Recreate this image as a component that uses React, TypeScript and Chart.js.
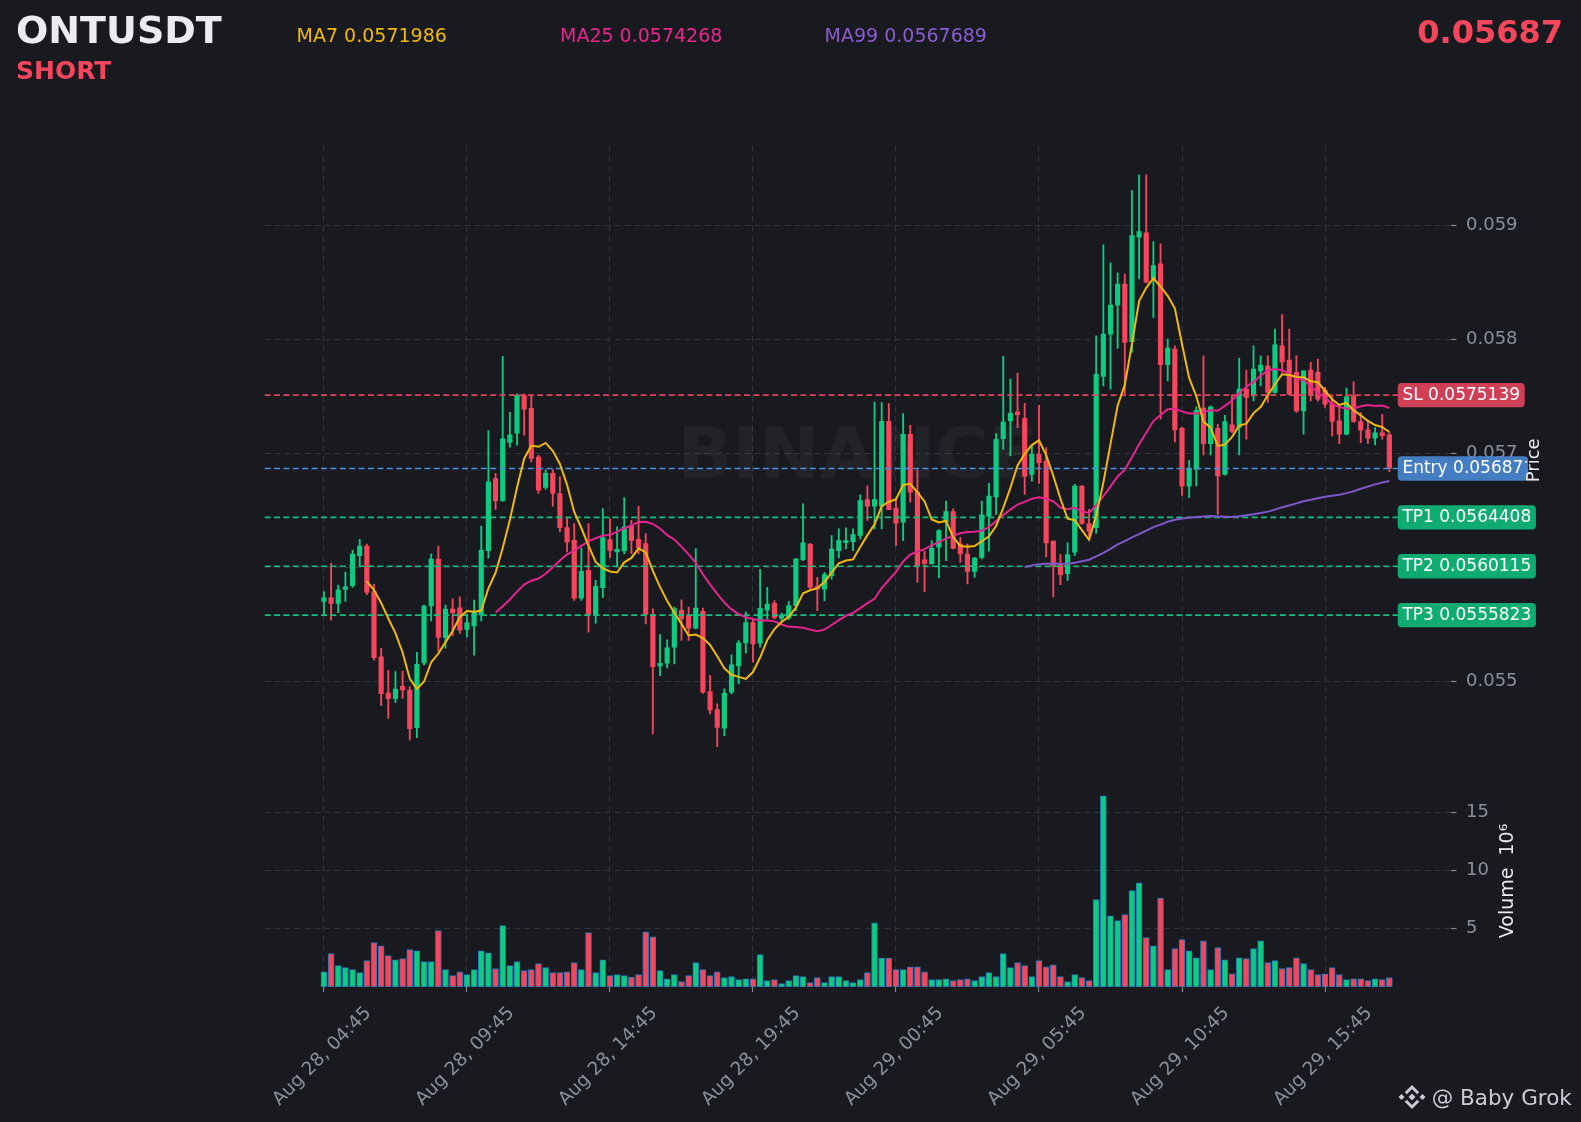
import React, { useEffect, useRef } from "react";
import { Chart, registerables } from "chart.js";

Chart.register(...registerables);

// ---------------- data ----------------
const SYMBOL = "ONTUSDT";
const SIDE = "SHORT";
const LAST_PRICE_TEXT = "0.05687";
const MA_TEXTS = ["MA7 0.0571986", "MA25 0.0574268", "MA99 0.0567689"];
const MA_PERIODS = [7, 25, 99];

const TICK_INDEX = [0, 20, 40, 60, 80, 100, 120, 140];
const TICK_LABELS = [
  "Aug 28, 04:45",
  "Aug 28, 09:45",
  "Aug 28, 14:45",
  "Aug 28, 19:45",
  "Aug 29, 00:45",
  "Aug 29, 05:45",
  "Aug 29, 10:45",
  "Aug 29, 15:45",
];
const PRICE_TICKS = [0.055, 0.056, 0.057, 0.058, 0.059];
const VOLUME_TICKS = [5, 10, 15];

const OPEN = [
  0.055702, 0.055734, 0.055685, 0.055808, 0.05584, 0.056104, 0.056189, 0.05579, 0.055216, 0.054899,
  0.054849, 0.054957, 0.054925, 0.054594, 0.055163, 0.055664, 0.056075, 0.055386, 0.055635, 0.055646,
  0.055456, 0.055488, 0.055585, 0.056148, 0.056781, 0.056588, 0.057098, 0.05718, 0.057511, 0.057397,
  0.056969, 0.056703, 0.056826, 0.05665, 0.056351, 0.056239, 0.055732, 0.055975, 0.05558, 0.055823,
  0.056245, 0.056137, 0.056145, 0.056362, 0.056248, 0.05621, 0.055588, 0.055137, 0.05516, 0.055301,
  0.055624, 0.055585, 0.055468, 0.055615, 0.054911, 0.054753, 0.054591, 0.054905, 0.055137, 0.055339,
  0.055518, 0.055336, 0.055625, 0.055685, 0.055556, 0.055556, 0.055665, 0.05607, 0.056207, 0.055832,
  0.055811, 0.055929, 0.056149, 0.056219, 0.056228, 0.056281, 0.056597, 0.056539, 0.056539, 0.057283,
  0.056521, 0.056398, 0.057169, 0.056662, 0.056067, 0.056031, 0.056178, 0.056398, 0.056492, 0.056207,
  0.056119, 0.055967, 0.05609, 0.056451, 0.056621, 0.057132, 0.057287, 0.057366, 0.05731, 0.056818,
  0.056994, 0.056935, 0.056232, 0.056026, 0.055947, 0.056135, 0.056715, 0.056387, 0.056349, 0.057677,
  0.058049, 0.058304, 0.058489, 0.057982, 0.0589, 0.058938, 0.058533, 0.058665, 0.05778, 0.057917,
  0.057223, 0.056715, 0.056862, 0.057399, 0.057088, 0.057223, 0.056818, 0.057252, 0.057229, 0.057566,
  0.057507, 0.057727, 0.057771, 0.057537, 0.057947, 0.057821, 0.057713, 0.057375, 0.057733, 0.057713,
  0.057557, 0.05744, 0.057288, 0.05717, 0.057507, 0.057282, 0.057208, 0.057135, 0.057182, 0.057164,
];
const HIGH = [
  0.05579, 0.056039, 0.055846, 0.05596, 0.056154, 0.056248, 0.056207, 0.055852, 0.055292, 0.055098,
  0.055086, 0.055092, 0.054954, 0.055256, 0.05567, 0.056119, 0.056189, 0.05567, 0.055726, 0.055743,
  0.055591, 0.055714, 0.056365, 0.057203, 0.056828, 0.057854, 0.057362, 0.057526, 0.057526, 0.057511,
  0.056985, 0.05686, 0.05686, 0.056796, 0.05643, 0.056386, 0.056172, 0.056386, 0.055887, 0.056518,
  0.05643, 0.056357, 0.056615, 0.056415, 0.056538, 0.056298, 0.055638, 0.055412, 0.055366, 0.055653,
  0.055717, 0.055653, 0.056166, 0.055644, 0.055052, 0.054803, 0.054935, 0.055234, 0.05536, 0.055609,
  0.055541, 0.055984, 0.055826, 0.055709, 0.0556, 0.055703, 0.05608, 0.056559, 0.05621, 0.055914,
  0.055958, 0.056281, 0.056339, 0.056348, 0.056339, 0.056638, 0.056717, 0.057453, 0.057448, 0.057439,
  0.056603, 0.057351, 0.057248, 0.056858, 0.056143, 0.056237, 0.056333, 0.056583, 0.056515, 0.056266,
  0.056207, 0.05609, 0.056583, 0.056739, 0.057176, 0.057853, 0.057654, 0.057706, 0.057442, 0.057073,
  0.057425, 0.057052, 0.056232, 0.056114, 0.056217, 0.05673, 0.05672, 0.05651, 0.058035, 0.058832,
  0.058674, 0.058586, 0.058577, 0.05931, 0.059448, 0.059448, 0.058861, 0.058841, 0.058005, 0.057947,
  0.05723, 0.056941, 0.057411, 0.057859, 0.057419, 0.057258, 0.057337, 0.057516, 0.057839, 0.057733,
  0.057947, 0.057859, 0.057859, 0.058094, 0.05822, 0.058094, 0.057859, 0.05773, 0.057801, 0.05783,
  0.057581, 0.057507, 0.057434, 0.057575, 0.057631, 0.057361, 0.057287, 0.057229, 0.057346, 0.057185,
];
const LOW = [
  0.055585, 0.055538, 0.055605, 0.055702, 0.055825, 0.056007, 0.055761, 0.055186, 0.054787, 0.054676,
  0.054817, 0.054852, 0.054488, 0.054506, 0.055145, 0.055532, 0.055268, 0.055292, 0.055403, 0.055421,
  0.055391, 0.05523, 0.055532, 0.056083, 0.056511, 0.05658, 0.057057, 0.057074, 0.057162, 0.056928,
  0.05665, 0.056685, 0.056538, 0.056313, 0.056137, 0.055712, 0.055712, 0.055433, 0.055512, 0.055735,
  0.056087, 0.056005, 0.056122, 0.056122, 0.056122, 0.055506, 0.054539, 0.055052, 0.055119, 0.055154,
  0.05536, 0.05536, 0.055462, 0.054896, 0.054715, 0.054427, 0.054524, 0.054891, 0.054979, 0.055248,
  0.055169, 0.055301, 0.05555, 0.055548, 0.055533, 0.055545, 0.055621, 0.056061, 0.055812, 0.055621,
  0.055709, 0.055899, 0.056084, 0.056163, 0.056149, 0.056251, 0.056413, 0.056339, 0.056339, 0.056509,
  0.056193, 0.056237, 0.056574, 0.05587, 0.055788, 0.056031, 0.055908, 0.056061, 0.056163, 0.056046,
  0.055856, 0.055914, 0.056075, 0.056144, 0.056466, 0.057038, 0.056979, 0.057228, 0.056642, 0.056759,
  0.056739, 0.056094, 0.055742, 0.05585, 0.055886, 0.056105, 0.056378, 0.056276, 0.056299, 0.057595,
  0.057566, 0.057923, 0.057507, 0.057888, 0.058533, 0.058498, 0.058196, 0.057302, 0.057639, 0.057102,
  0.056633, 0.056613, 0.056716, 0.056988, 0.056988, 0.056467, 0.056812, 0.057185, 0.056988, 0.057126,
  0.057463, 0.057595, 0.057449, 0.05753, 0.057713, 0.057515, 0.057361, 0.05717, 0.057463, 0.05746,
  0.057405, 0.057156, 0.057088, 0.057165, 0.057275, 0.057097, 0.057088, 0.057076, 0.057126, 0.056842,
];
const CLOSE = [
  0.055734, 0.055685, 0.055805, 0.055831, 0.056119, 0.056189, 0.055781, 0.05521, 0.054893, 0.054849,
  0.054934, 0.054925, 0.054585, 0.055151, 0.055661, 0.056075, 0.055386, 0.055635, 0.055605, 0.05545,
  0.055515, 0.055614, 0.056154, 0.056752, 0.056588, 0.05713, 0.057165, 0.057511, 0.057391, 0.056957,
  0.056679, 0.056826, 0.05665, 0.056351, 0.056225, 0.055732, 0.055967, 0.055588, 0.055835, 0.056263,
  0.056151, 0.05616, 0.056357, 0.056239, 0.056175, 0.055588, 0.055131, 0.05516, 0.055295, 0.055638,
  0.05555, 0.055468, 0.055644, 0.054905, 0.05475, 0.054597, 0.054899, 0.055146, 0.055339, 0.055518,
  0.05533, 0.055641, 0.05568, 0.055562, 0.055583, 0.055665, 0.056075, 0.056216, 0.055826, 0.055811,
  0.055938, 0.056163, 0.056237, 0.056237, 0.056289, 0.056588, 0.056539, 0.056597, 0.057283, 0.056509,
  0.056389, 0.057169, 0.056662, 0.056017, 0.056037, 0.056169, 0.056325, 0.056492, 0.056169, 0.056119,
  0.055967, 0.056084, 0.056462, 0.056627, 0.057126, 0.057278, 0.057354, 0.057343, 0.056803, 0.056994,
  0.056921, 0.056217, 0.056012, 0.055938, 0.056114, 0.056715, 0.056387, 0.056319, 0.057697, 0.058049,
  0.058304, 0.058489, 0.057976, 0.058914, 0.058949, 0.058504, 0.05865, 0.05778, 0.057926, 0.057208,
  0.056715, 0.056868, 0.057381, 0.057088, 0.057411, 0.056804, 0.057282, 0.057194, 0.057566, 0.057493,
  0.057742, 0.057777, 0.057537, 0.057956, 0.057806, 0.057522, 0.057375, 0.057727, 0.057522, 0.057478,
  0.057434, 0.057282, 0.05717, 0.057499, 0.057282, 0.057205, 0.057135, 0.057182, 0.057158, 0.05687,
];
// volume in millions
const VOLUME = [
  1.31, 2.86, 1.83, 1.66, 1.49, 1.23, 2.26, 3.8, 3.54, 2.69,
  2.34, 2.43, 3.2, 3.11, 2.17, 2.17, 4.83, 1.49, 0.97, 1.31,
  1.06, 1.49, 3.11, 2.94, 1.57, 5.26, 1.83, 2.17, 1.4, 1.49,
  2.0, 1.66, 1.23, 1.23, 1.31, 2.09, 1.49, 4.66, 1.23, 2.34,
  0.97, 1.06, 0.97, 0.86, 1.06, 4.74, 4.31, 1.4, 0.71, 1.06,
  0.46, 0.97, 2.09, 1.49, 0.97, 1.31, 0.8, 0.89, 0.63, 0.71,
  0.71, 2.77, 0.54, 0.63, 0.29, 0.54, 0.97, 0.89, 0.37, 0.8,
  0.37, 0.89, 0.89, 0.54, 0.37, 0.63, 1.23, 5.51, 2.49, 2.49,
  1.49, 1.49, 1.74, 1.74, 1.31, 0.63, 0.63, 0.71, 0.54, 0.63,
  0.71, 0.54, 0.89, 1.23, 0.89, 2.86, 1.66, 2.09, 1.83, 0.89,
  2.26, 1.74, 1.91, 0.89, 0.46, 1.06, 0.8, 0.54, 7.49, 16.4,
  6.11, 5.69, 6.2, 8.26, 8.94, 4.23, 3.54, 7.63, 1.49, 3.29,
  4.06, 3.11, 2.51, 3.97, 1.49, 3.37, 2.34, 1.14, 2.51, 2.43,
  3.29, 3.97, 2.09, 2.26, 1.57, 1.66, 2.51, 2.0, 1.49, 1.06,
  1.14, 1.66, 1.06, 0.63, 0.71, 0.71, 0.54, 0.71, 0.63, 0.8,
];

const LEVEL_VALUES = [0.0575139, 0.05687, 0.0564408, 0.0560115, 0.0555823];
const LEVEL_TEXTS = ["SL 0.0575139", "Entry 0.05687", "TP1 0.0564408", "TP2 0.0560115", "TP3 0.0555823"];

// ---------------- style ----------------
const BG = "#181a20";
const UP = "#0ecb81";
const DOWN = "#f6465d";
const MA_COLORS = ["#f0b90b", "#e6238e", "#7f57c8"];
const MA_TEXT_COLORS = ["#f0b90b", "#e8268d", "#8a5bd1"];
const LEVEL_LINE_COLORS = ["#e0435c", "#4a8fe0", "#12c07f", "#12c07f", "#12c07f"];
const LEVEL_BOX_COLORS = ["#e0435c", "#4a86d0", "#0fb97a", "#0fb97a", "#0fb97a"];
const GRID = "#30343b";
const TICK_TEXT = "#8a9099";
const FONT = '"DejaVu Sans"';

const X_MIN = -8.3;
const X_MAX = 157.55;
const LABEL_X = 150.17;
const PRICE_MIN = 0.054179;
const PRICE_MAX = 0.059703;
const VOL_MAX = 18.18;
const WATERMARK_PRICE = 0.05695;

function movingAverage(values: number[], period: number) {
  const out: { x: number; y: number }[] = [];
  for (let i = period - 1; i < values.length; i++) {
    let s = 0;
    for (let k = i - period + 1; k <= i; k++) s += values[k];
    out.push({ x: i, y: s / period });
  }
  return out;
}

const overlayPlugin = {
  id: "overlay",
  beforeDatasetsDraw(chart: any) {
    const { ctx, chartArea, scales } = chart;
    ctx.save();
    ctx.font = `bold 72px ${FONT}`;
    ctx.fillStyle = "rgba(255,255,255,0.045)";
    ctx.textAlign = "center";
    ctx.textBaseline = "middle";
    ctx.fillText("BINANCE", (chartArea.left + chartArea.right) / 2, scales.y.getPixelForValue(WATERMARK_PRICE));
    ctx.restore();
  },
  afterDraw(chart: any) {
    const { ctx, scales } = chart;
    ctx.save();
    const x0 = scales.x.getPixelForValue(LABEL_X);
    ctx.font = `17px ${FONT}`;
    ctx.textAlign = "left";
    ctx.textBaseline = "middle";
    LEVEL_VALUES.forEach((v, i) => {
      const y = scales.y.getPixelForValue(v);
      const w = ctx.measureText(LEVEL_TEXTS[i]).width + 9.4;
      const h = 24.4;
      ctx.globalAlpha = 0.92;
      ctx.fillStyle = LEVEL_BOX_COLORS[i];
      ctx.beginPath();
      ctx.roundRect(x0, y - h / 2, w, h, 4);
      ctx.fill();
      ctx.globalAlpha = 1;
      ctx.fillStyle = "#ffffff";
      ctx.fillText(LEVEL_TEXTS[i], x0 + 4.7, y + 0.5);
    });
    // axis titles (reading upward)
    const ys = scales.y;
    const yv = scales.yv;
    ctx.fillStyle = "#eaecef";
    ctx.textAlign = "center";
    ctx.textBaseline = "middle";
    ctx.save();
    ctx.translate(ys.left + 84, (ys.top + ys.bottom) / 2);
    ctx.rotate(-Math.PI / 2);
    ctx.font = `18px ${FONT}`;
    ctx.fillText("Price", 0, 0);
    ctx.restore();
    ctx.save();
    ctx.translate(yv.left + 58, (yv.top + yv.bottom) / 2);
    ctx.rotate(-Math.PI / 2);
    ctx.font = `19px ${FONT}`;
    ctx.fillText("Volume  10\u2076", 0, 0);
    ctx.restore();
    ctx.restore();
  },
};

export default function App() {
  const ref = useRef<HTMLCanvasElement>(null);

  useEffect(() => {
    document.body.style.margin = "0";
    document.body.style.background = BG;
    document.body.style.overflow = "hidden";
    Chart.defaults.font.family = FONT;

    const n = CLOSE.length;
    const candleColors = CLOSE.map((c, i) => (c >= OPEN[i] ? UP : DOWN));
    const idx = Array.from({ length: n }, (_, i) => i);

    const datasets: any[] = [
      {
        type: "bar",
        label: "wick",
        data: idx.map((i) => ({ x: i, y: [LOW[i], HIGH[i]] })),
        backgroundColor: candleColors,
        barThickness: 1.2,
        grouped: false,
        yAxisID: "y",
        order: 10,
      },
      {
        type: "bar",
        label: "body",
        data: idx.map((i) => ({ x: i, y: [OPEN[i], CLOSE[i]] })),
        backgroundColor: candleColors,
        barThickness: 4.5,
        minBarLength: 1.2,
        grouped: false,
        yAxisID: "y",
        order: 9,
      },
      {
        type: "bar",
        label: "volume",
        data: idx.map((i) => ({ x: i, y: VOLUME[i] })),
        backgroundColor: candleColors,
        borderColor: "#1f77b4",
        borderWidth: 1,
        borderSkipped: false,
        barThickness: 6,
        grouped: false,
        yAxisID: "yv",
        order: 8,
      },
    ];

    LEVEL_VALUES.forEach((v, i) => {
      datasets.push({
        type: "line",
        label: LEVEL_TEXTS[i],
        data: [
          { x: X_MIN, y: v },
          { x: LABEL_X, y: v },
        ],
        borderColor: LEVEL_LINE_COLORS[i],
        borderWidth: 1.6,
        borderDash: [6, 3.4],
        pointRadius: 0,
        yAxisID: "y",
        order: 5,
      });
    });

    MA_PERIODS.forEach((p, i) => {
      datasets.push({
        type: "line",
        label: "MA" + p,
        data: movingAverage(CLOSE, p),
        borderColor: MA_COLORS[i],
        borderWidth: 2,
        pointRadius: 0,
        tension: 0,
        yAxisID: "y",
        order: 1,
      });
    });

    const chart = new Chart(ref.current as HTMLCanvasElement, {
      type: "bar",
      data: { datasets },
      plugins: [overlayPlugin],
      options: {
        responsive: false,
        animation: false,
        layout: { padding: { left: 264.6, top: 145.7, right: 0, bottom: 0 } },
        plugins: { legend: { display: false }, tooltip: { enabled: false } },
        scales: {
          x: {
            type: "linear",
            min: X_MIN,
            max: X_MAX,
            offset: false,
            afterBuildTicks: (s: any) => {
              s.ticks = TICK_INDEX.map((v) => ({ value: v }));
            },
            afterFit: (s: any) => {
              s.height = 135;
            },
            grid: {
              offset: false,
              color: GRID,
              lineWidth: 1,
              tickLength: 5,
              tickColor: "#80868e",
              tickWidth: 1.2,
            },
            border: { display: false, dash: [6, 4] },
            ticks: {
              autoSkip: false,
              minRotation: 45,
              maxRotation: 45,
              labelOffset: 44.5,
              padding: 10.5,
              color: TICK_TEXT,
              font: { size: 18.5, family: FONT },
              callback: (value: any) => {
                const k = TICK_INDEX.indexOf(Number(value));
                return k >= 0 ? TICK_LABELS[k] : "";
              },
            },
          },
          y: {
            type: "linear",
            position: "right",
            stack: "panes",
            stackWeight: 629.3,
            min: PRICE_MIN,
            max: PRICE_MAX,
            beginAtZero: false,
            afterBuildTicks: (s: any) => {
              s.ticks = PRICE_TICKS.map((v) => ({ value: v }));
            },
            afterFit: (s: any) => {
              s.width = 130.5;
            },
            grid: { color: GRID, lineWidth: 1, tickLength: 6, tickColor: "#80868e", tickWidth: 1.2 },
            border: { display: false, dash: [6, 4] },
            ticks: {
              padding: 9.5,
              color: TICK_TEXT,
              font: { size: 18, family: FONT },
              callback: (value: any) => Number(value).toFixed(3),
            },
          },
          yv: {
            type: "linear",
            position: "right",
            stack: "panes",
            stackWeight: 212,
            min: 0,
            max: VOL_MAX,
            beginAtZero: true,
            afterBuildTicks: (s: any) => {
              s.ticks = VOLUME_TICKS.map((v) => ({ value: v }));
            },
            afterFit: (s: any) => {
              s.width = 130.5;
            },
            grid: { color: GRID, lineWidth: 1, tickLength: 6, tickColor: "#80868e", tickWidth: 1.2 },
            border: { display: false, dash: [6, 4] },
            ticks: {
              padding: 9.5,
              color: TICK_TEXT,
              font: { size: 18, family: FONT },
              callback: (value: any) => String(value),
            },
          },
        },
      } as any,
    });
    return () => chart.destroy();
  }, []);

  const text = (extra: React.CSSProperties): React.CSSProperties => ({
    position: "absolute",
    lineHeight: 1,
    whiteSpace: "nowrap",
    fontFamily: FONT,
    ...extra,
  });

  return (
    <div
      style={{
        position: "absolute",
        left: 0,
        top: 0,
        width: 1581,
        height: 1122,
        background: BG,
        overflow: "hidden",
      }}
    >
      <canvas
        ref={ref}
        width={1581}
        height={1122}
        style={{ position: "absolute", left: 0, top: 0, width: 1581, height: 1122 }}
      />
      <div style={text({ left: 16, top: 10.6, fontSize: 38, fontWeight: "bold", color: "#eaecef" })}>{SYMBOL}</div>
      <div style={text({ left: 16, top: 58.1, fontSize: 25, fontWeight: "bold", color: DOWN })}>{SIDE}</div>
      <div style={text({ left: 296.6, top: 25.8, fontSize: 19, color: MA_TEXT_COLORS[0] })}>{MA_TEXTS[0]}</div>
      <div style={text({ left: 560, top: 25.8, fontSize: 19, color: MA_TEXT_COLORS[1] })}>{MA_TEXTS[1]}</div>
      <div style={text({ left: 824.6, top: 25.8, fontSize: 19, color: MA_TEXT_COLORS[2] })}>{MA_TEXTS[2]}</div>
      <div style={text({ right: 18, top: 15.6, fontSize: 32, fontWeight: "bold", color: DOWN })}>{LAST_PRICE_TEXT}</div>
      <svg
        width={28}
        height={28}
        viewBox="0 0 28 28"
        style={{ position: "absolute", left: 1398, top: 1083 }}
      >
        <g fill="#c9cdd3" stroke="none">
          <polygon points="14,10.5 17.5,14 14,17.5 10.5,14" />
          <polygon points="3.5,11 6.5,14 3.5,17 0.5,14" />
          <polygon points="24.5,11 27.5,14 24.5,17 21.5,14" />
        </g>
        <g fill="none" stroke="#c9cdd3" strokeWidth={3}>
          <polyline points="7.8,10.2 14,4 20.2,10.2" />
          <polyline points="7.8,17.8 14,24 20.2,17.8" />
        </g>
      </svg>
      <div style={text({ left: 1431.7, top: 1086.8, fontSize: 21.5, color: "#c9cdd3" })}>@ Baby Grok</div>
    </div>
  );
}
